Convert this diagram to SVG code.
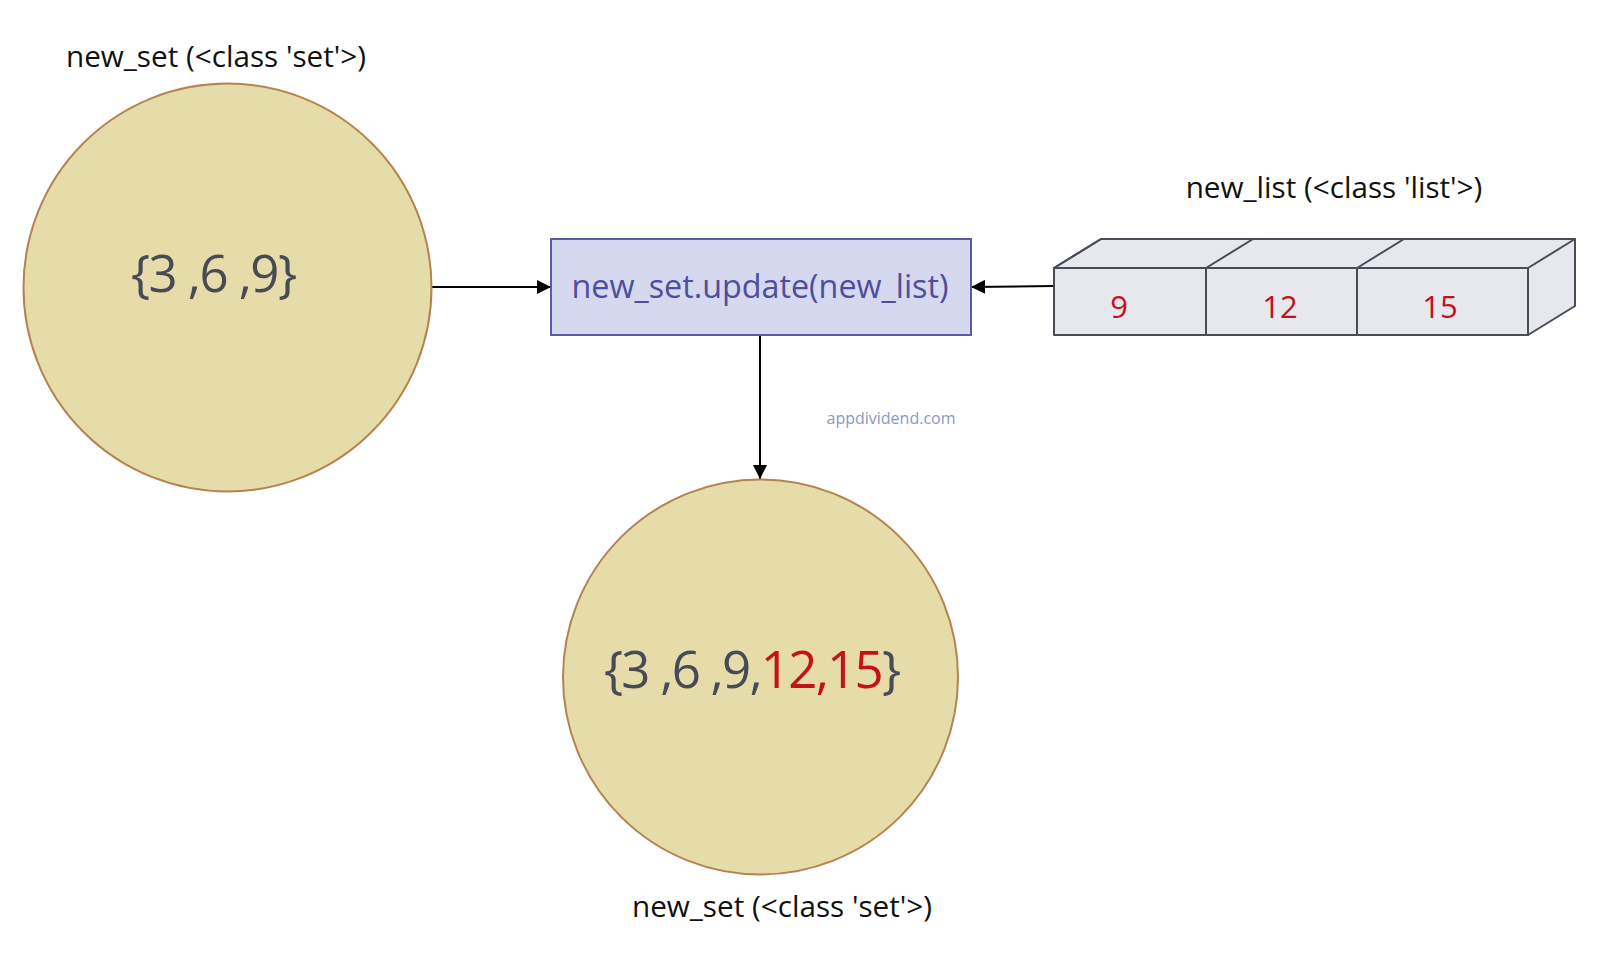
<svg xmlns="http://www.w3.org/2000/svg" width="1600" height="962" viewBox="0 0 1600 962">
<style>
.lbl{font-family:"Open Sans","Noto Sans",sans-serif;font-size:29.7px;fill:#111;}
.set{fill:#e6dcaa;stroke:#b5834f;stroke-width:2;}
.settxt{font-family:"Open Sans","Noto Sans",sans-serif;font-size:51px;fill:#474b55;}
.red{fill:#c4121a;}
.cell{fill:#e6e8ee;stroke:#4a4d57;stroke-width:2;stroke-linejoin:round;}
.num{font-family:"Open Sans","Noto Sans",sans-serif;font-size:31px;fill:#c4121a;text-anchor:middle;}
.conn{stroke:#000;stroke-width:2;fill:none;}
</style>
<defs>
<marker id="ah2" viewBox="0 0 10 10" refX="10" refY="5" markerWidth="14" markerHeight="14" markerUnits="userSpaceOnUse" orient="auto">
<path d="M0,0 L10,5 L0,10 z" fill="#000"/>
</marker>
</defs>
<rect width="1600" height="962" fill="#fff"/>
<g id="connectors">
<path class="conn" d="M432,287 L551,287" marker-end="url(#ah2)"/>
<path class="conn" d="M1054,286 L971,287" marker-end="url(#ah2)"/>
<path class="conn" d="M760,335 L760,479" marker-end="url(#ah2)"/>
</g>
<g id="set1">
<text class="lbl" x="216" y="67" text-anchor="middle">new_set (&lt;class 'set'&gt;)</text>
<circle class="set" cx="227.5" cy="287.5" r="204"/>
<text class="settxt" x="214" y="292" text-anchor="middle" textLength="166" lengthAdjust="spacing">{3 ,6 ,9}</text>
</g>
<g id="update">
<rect x="551" y="239" width="420" height="96" fill="#d5d8ee" stroke="#5a5aa2" stroke-width="2"/>
<text x="760" y="298" text-anchor="middle" font-family="Open Sans, Noto Sans, sans-serif" font-size="32.3" fill="#4e4e9c">new_set.update(new_list)</text>
</g>
<g id="list">
<text class="lbl" x="1334" y="198" text-anchor="middle">new_list (&lt;class 'list'&gt;)</text>
<path class="cell" d="M1054,268 L1101,239 L1575,239 L1575,306 L1528,335 L1528,268 Z"/>
<path class="cell" d="M1054,268 L1101,239 M1206,268 L1253,239 M1357,268 L1404,239 M1528,268 L1575,239" fill="none"/>
<rect class="cell" x="1054" y="268" width="152" height="67"/>
<rect class="cell" x="1206" y="268" width="151" height="67"/>
<rect class="cell" x="1357" y="268" width="171" height="67"/>
<text class="num" x="1119" y="318">9</text>
<text class="num" x="1280" y="318">12</text>
<text class="num" x="1440" y="318">15</text>
</g>
<g id="set2">
<circle class="set" cx="760.5" cy="677" r="197.5"/>
<text class="settxt" x="752.5" y="688" text-anchor="middle" textLength="297" lengthAdjust="spacing">{3 ,6 ,9,<tspan class="red">12,15</tspan>}</text>
<text class="lbl" x="782" y="917" text-anchor="middle">new_set (&lt;class 'set'&gt;)</text>
</g>
<g id="watermark">
<text x="891" y="424" text-anchor="middle" font-family="Open Sans, Noto Sans, sans-serif" font-size="16" fill="#8d96c6">appdividend.com</text>
</g>
</svg>
